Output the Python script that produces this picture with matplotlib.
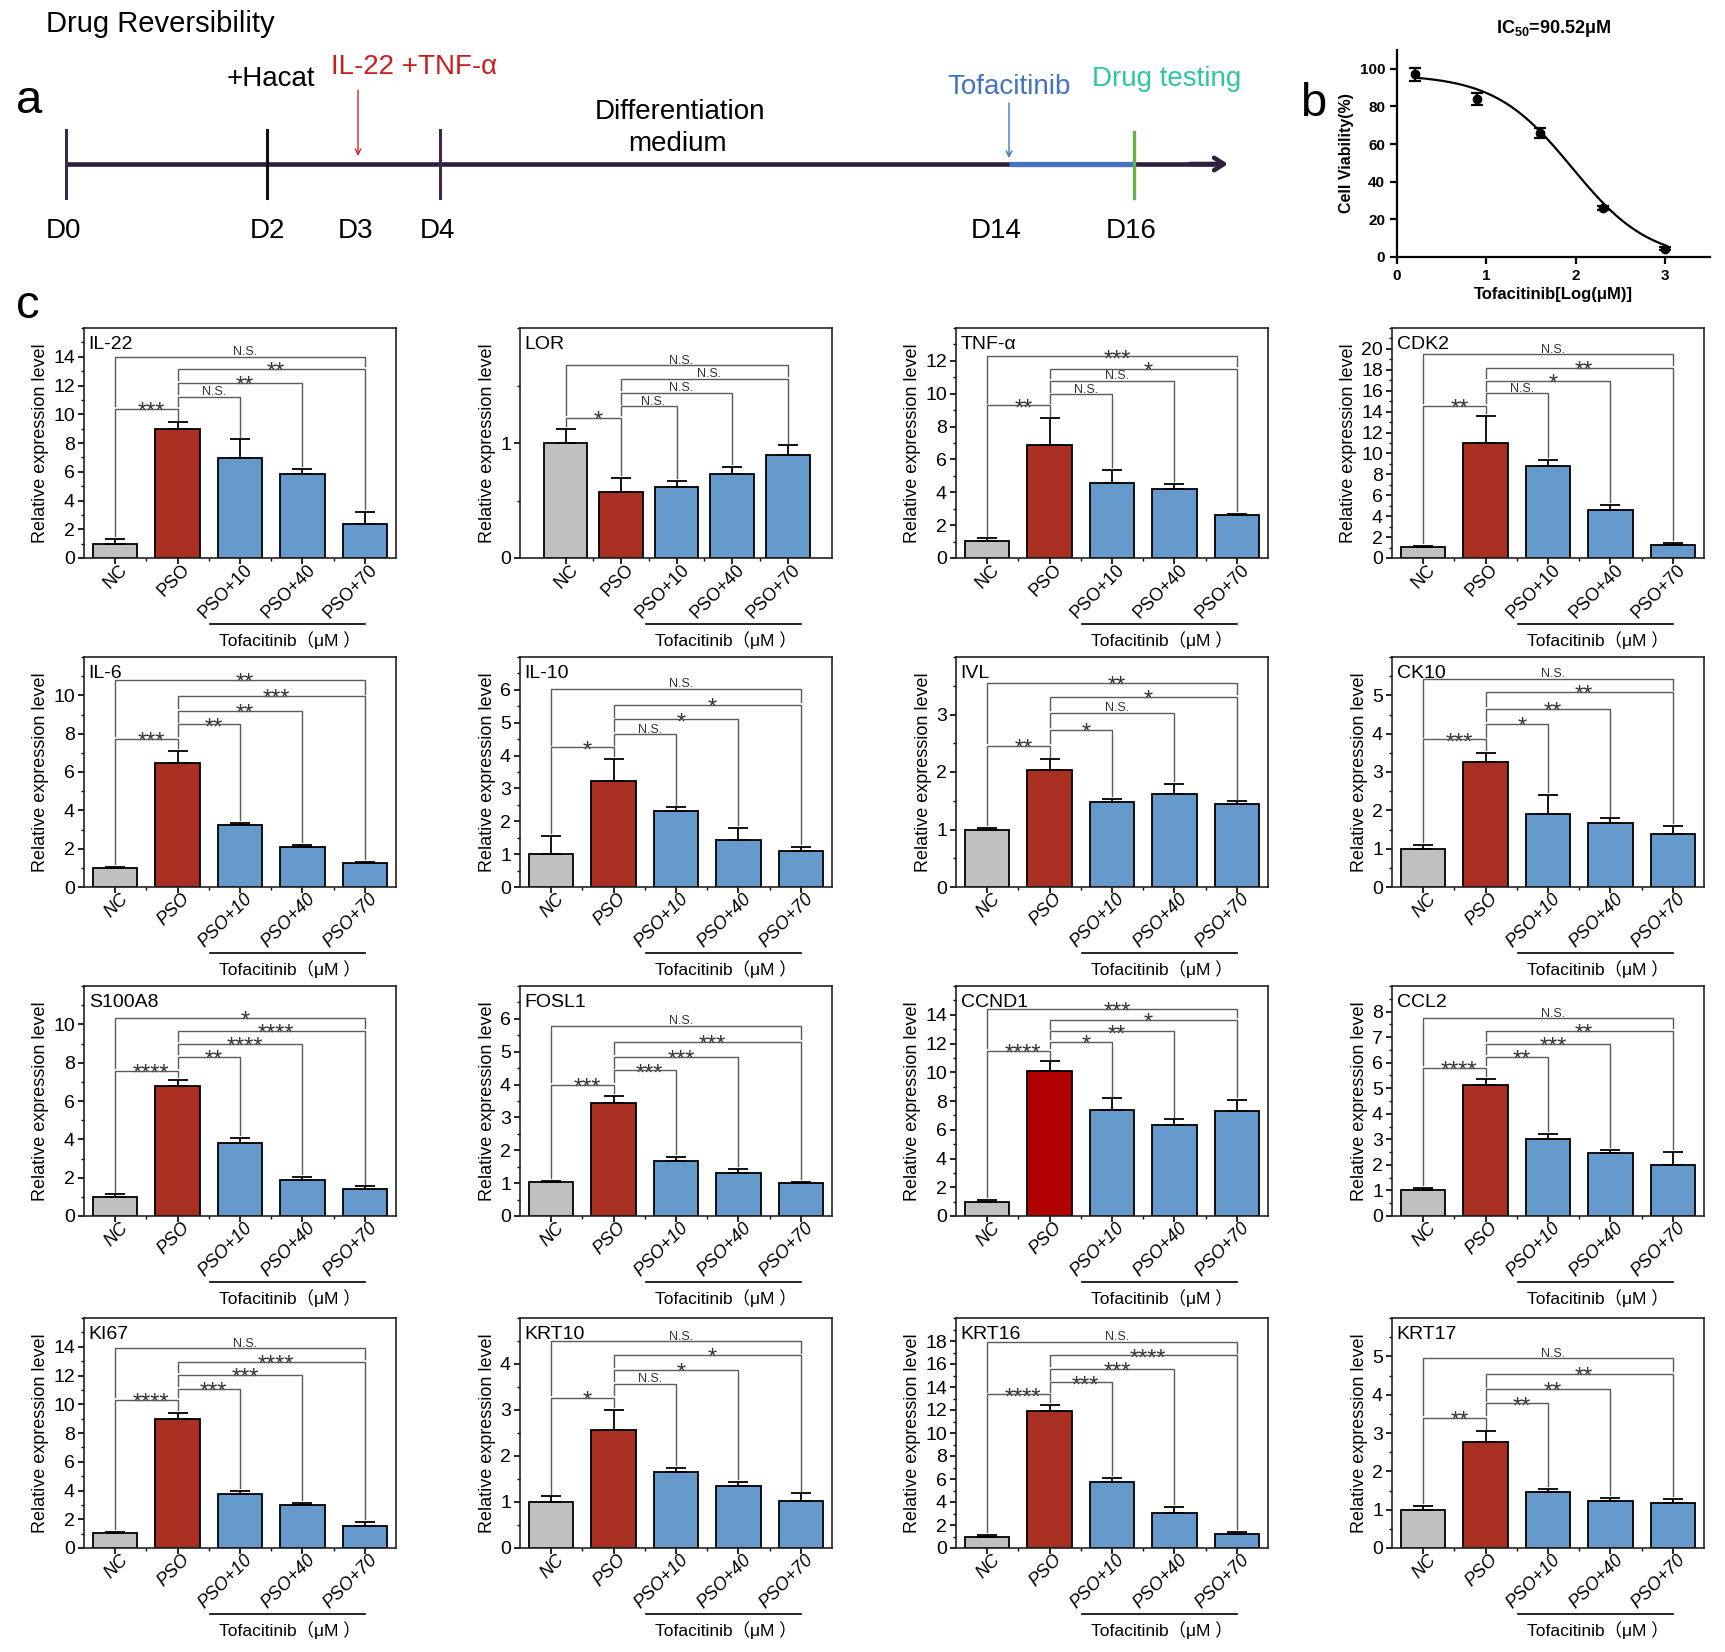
import numpy as np
import matplotlib
matplotlib.use('Agg')
import matplotlib.pyplot as plt
import matplotlib.transforms as mtransforms
from matplotlib import font_manager
from matplotlib.ticker import AutoMinorLocator

plt.rcParams['font.family'] = ['Liberation Sans', 'Noto Sans CJK SC', 'DejaVu Sans']
plt.rcParams['mathtext.fontset'] = 'custom'
plt.rcParams['mathtext.rm'] = 'Liberation Sans'
plt.rcParams['mathtext.bf'] = 'Liberation Sans:bold'

# rows 2-4 of panel c use a narrow face in the original
try:
    font_manager.findfont(font_manager.FontProperties(family='Liberation Sans Narrow'),
                          fallback_to_default=False)
    NARROW = 'Liberation Sans Narrow'
except ValueError:
    NARROW = 'Liberation Sans'

# ---------------- data ----------------
# panel b: dose response
log_dose = [0.2, 0.9, 1.6, 2.3, 3.0]
viability = [97, 84, 66, 26, 4.5]
viability_err = [3.5, 3, 2.5, 1.2, 1]
fit_top, fit_bottom, fit_log_ic50, fit_hill = 97, -2, np.log10(90.52), 1.0

# panel a: timeline
day_labels = ['D0', 'D2', 'D3', 'D4', 'D14', 'D16']

# panel c
groups = ['NC', 'PSO', 'PSO+10', 'PSO+40', 'PSO+70']
genes = ['IL-22', 'LOR', 'TNF-α', 'CDK2',
         'IL-6', 'IL-10', 'IVL', 'CK10',
         'S100A8', 'FOSL1', 'CCND1', 'CCL2',
         'KI67', 'KRT10', 'KRT16', 'KRT17']
means = [
    [1.0, 8.95, 6.98, 5.81, 2.37],
    [1.0, 0.57, 0.62, 0.73, 0.90],
    [1.02, 6.87, 4.54, 4.20, 2.61],
    [1.02, 11.02, 8.79, 4.63, 1.28],
    [0.99, 6.46, 3.23, 2.11, 1.27],
    [1.01, 3.22, 2.32, 1.44, 1.09],
    [1.0, 2.04, 1.47, 1.62, 1.44],
    [1.0, 3.26, 1.91, 1.68, 1.39],
    [1.01, 6.79, 3.80, 1.90, 1.41],
    [1.02, 3.45, 1.67, 1.32, 0.99],
    [1.0, 10.12, 7.34, 6.32, 7.27],
    [1.01, 5.12, 3.01, 2.45, 1.98],
    [1.05, 9.0, 3.77, 2.98, 1.56],
    [1.01, 2.56, 1.65, 1.34, 1.03],
    [0.99, 11.88, 5.72, 3.08, 1.22],
    [1.0, 2.77, 1.46, 1.22, 1.18],
]
errs = [
    [0.35, 0.49, 1.28, 0.38, 0.84],
    [0.125, 0.13, 0.05, 0.06, 0.08],
    [0.18, 1.63, 0.82, 0.32, 0.08],
    [0.13, 2.56, 0.6, 0.45, 0.19],
    [0.07, 0.66, 0.12, 0.09, 0.06],
    [0.54, 0.69, 0.1, 0.37, 0.13],
    [0.03, 0.18, 0.06, 0.18, 0.05],
    [0.09, 0.23, 0.49, 0.11, 0.21],
    [0.12, 0.3, 0.27, 0.14, 0.13],
    [0.05, 0.2, 0.12, 0.12, 0.04],
    [0.12, 0.63, 0.84, 0.4, 0.82],
    [0.1, 0.25, 0.2, 0.14, 0.53],
    [0.09, 0.42, 0.23, 0.14, 0.25],
    [0.11, 0.45, 0.1, 0.1, 0.16],
    [0.14, 0.55, 0.38, 0.49, 0.2],
    [0.1, 0.27, 0.08, 0.09, 0.1],
]
# comparisons: NC-PSO, PSO-10, PSO-40, PSO-70, NC-70
pairs = [(0, 1), (1, 2), (1, 3), (1, 4), (0, 4)]
bracket_y = [
    [10.4, 11.23, 12.16, 13.14, 14.0],
    [1.217, 1.319, 1.435, 1.557, 1.675],
    [9.29, 9.96, 10.8, 11.51, 12.27],
    [14.57, 15.75, 16.96, 18.15, 19.49],
    [7.73, 8.48, 9.2, 9.95, 10.79],
    [4.25, 4.65, 5.1, 5.55, 6.03],
    [2.46, 2.73, 3.03, 3.3, 3.55],
    [3.85, 4.26, 4.64, 5.08, 5.43],
    [7.59, 8.29, 8.97, 9.65, 10.35],
    [4.0, 4.43, 4.85, 5.29, 5.78],
    [11.49, 12.1, 12.84, 13.64, 14.38],
    [5.8, 6.24, 6.74, 7.24, 7.74],
    [10.28, 11.09, 12.05, 12.95, 13.9],
    [3.26, 3.57, 3.87, 4.19, 4.49],
    [13.36, 14.4, 15.56, 16.75, 17.94],
    [3.4, 3.77, 4.14, 4.54, 4.95],
]
sig = [
    ['***', 'N.S.', '**', '**', 'N.S.'],
    ['*', 'N.S.', 'N.S.', 'N.S.', 'N.S.'],
    ['**', 'N.S.', 'N.S.', '*', '***'],
    ['**', 'N.S.', '*', '**', 'N.S.'],
    ['***', '**', '**', '***', '**'],
    ['*', 'N.S.', '*', '*', 'N.S.'],
    ['**', '*', 'N.S.', '*', '**'],
    ['***', '*', '**', '**', 'N.S.'],
    ['****', '**', '****', '****', '*'],
    ['***', '***', '***', '***', 'N.S.'],
    ['****', '*', '**', '*', '***'],
    ['****', '**', '***', '**', 'N.S.'],
    ['****', '***', '***', '****', 'N.S.'],
    ['*', 'N.S.', '*', '*', 'N.S.'],
    ['****', '***', '***', '****', 'N.S.'],
    ['**', '**', '**', '**', 'N.S.'],
]
y_top = [16, 2, 14, 22, 12, 7, 4, 6, 12, 7, 16, 9, 16, 5, 20, 6]
y_step = [2, 1, 2, 2, 2, 1, 1, 1, 2, 1, 2, 1, 2, 1, 2, 1]

# ---------------- figure ----------------
W, H = 1725, 1652
fig = plt.figure(figsize=(W / 100, H / 100), dpi=100)

# ---- panel a: timeline drawn in pixel space ----
top_h = 262
axa = fig.add_axes([0, 1 - top_h / H, 1, top_h / H])
axa.set_xlim(0, W)
axa.set_ylim(top_h, 0)
axa.axis('off')

line_c = '#2e1f3e'
line_y = 164
day_x = [64, 267, 355, 437, 996, 1131]
axa.plot([66, 1215], [line_y, line_y], color=line_c, lw=3.3, solid_capstyle='butt', zorder=2)
axa.annotate('', xy=(1228, line_y), xytext=(1190, line_y),
             arrowprops=dict(arrowstyle='->,head_length=0.7,head_width=0.45',
                             color=line_c, lw=3.3, shrinkA=0, shrinkB=0))
axa.plot([1009, 1134], [line_y, line_y], color='#4472c4', lw=3.8, solid_capstyle='butt', zorder=3)
for tx, tc in [(66, '#3a2a4a'), (267, '#111111'), (440, '#3a2a4a')]:
    axa.plot([tx, tx], [130, 198], color=tc, lw=2.2, zorder=4)
axa.plot([1134, 1134], [132, 198], color='#6ab04c', lw=2.4, zorder=4)
for lab, dx in zip(day_labels, day_x):
    axa.text(dx, 231, lab, ha='center', va='center', fontsize=20)

axa.text(46, 24, 'Drug Reversibility', ha='left', va='center', fontsize=21)
axa.text(271, 79, '+Hacat', ha='center', va='center', fontsize=20)
axa.text(414, 67, 'IL-22 +TNF-α', ha='center', va='center', fontsize=20, color='#c8201e')
axa.annotate('', xy=(358, 156), xytext=(358, 90),
             arrowprops=dict(arrowstyle='->', color='#d02525', lw=1.0, shrinkA=0, shrinkB=0))
axa.text(680, 112, 'Differentiation', ha='center', va='center', fontsize=20)
axa.text(678, 144, 'medium', ha='center', va='center', fontsize=20)
axa.text(1009, 87, 'Tofacitinib', ha='center', va='center', fontsize=20, color='#4472c4')
axa.annotate('', xy=(1009, 158), xytext=(1009, 103),
             arrowprops=dict(arrowstyle='->', color='#4472c4', lw=1.0, shrinkA=0, shrinkB=0))
axa.text(1167, 79, 'Drug testing', ha='center', va='center', fontsize=20, color='#2ec4a6')

fig.text(16 / W, 1 - 101 / H, 'a', fontsize=34, ha='left', va='center')
fig.text(1300 / W, 1 - 104 / H, 'b', fontsize=34, ha='left', va='center')
fig.text(16 / W, 1 - 306 / H, 'c', fontsize=34, ha='left', va='center')

# ---- panel b: IC50 curve ----
axb = fig.add_axes([1397 / W, 1 - 257 / H, 313 / W, 207 / H])
axb.errorbar(log_dose, viability, yerr=viability_err, fmt='o', color='black', ms=6,
             capsize=4, elinewidth=1.6, capthick=1.6, zorder=3)
xs = np.linspace(min(log_dose), max(log_dose), 300)
curve = fit_bottom + (fit_top - fit_bottom) / (1 + 10 ** ((xs - fit_log_ic50) * fit_hill))
axb.plot(xs, curve, color='black', lw=1.6)
axb.set_xlim(0, 3.5)
axb.set_ylim(0, 110)
axb.set_xticks([0, 1, 2, 3])
axb.set_yticks(np.arange(0, 101, 20))
for s in ['top', 'right']:
    axb.spines[s].set_visible(False)
for s in ['left', 'bottom']:
    axb.spines[s].set_linewidth(1.6)
axb.tick_params(direction='out', length=5, width=1.6, labelsize=11)
for lbl in axb.get_xticklabels() + axb.get_yticklabels():
    lbl.set_fontweight('bold')
axb.set_ylabel('Cell Viability(%)', fontsize=11.5, fontweight='bold', labelpad=4)
axb.set_xlabel('Tofacitinib[Log(μM)]', fontsize=12, fontweight='bold', labelpad=3)
axb.set_title(r'IC$_{\mathbf{50}}$=90.52μM', fontsize=13, fontweight='bold', pad=12)

# ---- panel c: bar charts ----
col_left = [84, 520, 956, 1392]
row_top = [328, 657, 986, 1318]
ax_w, ax_h = 312, 230
bar_colors = ['#c0c0c0', '#a93021', '#6699cc', '#6699cc', '#6699cc']
brk_color = '#5a5a5a'
shift = mtransforms.ScaledTranslation(10 / 100, 0, fig.dpi_scale_trans)

for k, gene in enumerate(genes):
    r, c = divmod(k, 4)
    ax = fig.add_axes([col_left[c] / W, 1 - (row_top[r] + ax_h) / H, ax_w / W, ax_h / H])
    x = np.arange(len(groups))
    wide = gene == 'LOR'
    bw = 0.79 if wide else 0.71
    cols = list(bar_colors)
    if gene == 'CCND1':
        cols[1] = '#b30000'
    ax.bar(x, means[k], bw, color=cols, edgecolor='black', linewidth=1.3, zorder=2)
    ax.errorbar(x, means[k], yerr=[np.zeros(len(x)), errs[k]], fmt='none', ecolor='black',
                elinewidth=1.3, capsize=7, capthick=1.3, zorder=3)
    ax.set_xlim((-0.82, 4.8) if wide else (-0.5, 4.5))
    ax.set_ylim(0, y_top[k])
    ax.set_yticks(np.arange(0, y_top[k] - 1e-9, y_step[k]))
    ax.yaxis.set_minor_locator(AutoMinorLocator(2))
    ax.set_xticks(x)
    ax.set_xticks(np.arange(0.5, 4, 1), minor=True)
    ax.tick_params(which='major', direction='out', length=4, width=1.2, pad=2.5)
    ax.tick_params(axis='x', which='major', pad=2.5)
    ax.tick_params(which='minor', direction='out', length=2.5, width=1.0)

    fam = 'Liberation Sans' if r == 0 else NARROW
    style = 'normal' if r == 0 else 'italic'
    ax.set_xticklabels(groups, rotation=45, ha='right', va='center', rotation_mode='anchor',
                       fontsize=13, family=[fam, 'DejaVu Sans'], style=style)
    for lbl in ax.get_xticklabels():
        lbl.set_transform(lbl.get_transform() + shift)
    for lbl in ax.get_yticklabels():
        lbl.set_fontsize(14)
        lbl.set_family([fam, 'DejaVu Sans'])
    for s in ax.spines.values():
        s.set_linewidth(1.2)
        s.set_color('#222222')
    ax.set_ylabel('Relative expression level', fontsize=13, labelpad=3)
    ax.text(0.015, 0.965, gene, transform=ax.transAxes, ha='left', va='top',
            fontsize=14, family=[fam, 'DejaVu Sans'])

    # significance brackets, each leg stops just above what lies below it
    occupied = [m + e for m, e in zip(means[k], errs[k])]
    gap = 0.012 * y_top[k]
    for (i, j), h, lab in zip(pairs, bracket_y[k], sig[k]):
        ax.plot([i, i, j, j], [occupied[i] + gap, h, h, occupied[j] + gap],
                color=brk_color, lw=1.0, zorder=4, solid_joinstyle='miter')
        occupied[i] = h
        occupied[j] = h
        if lab.startswith('*'):
            ax.annotate(lab, xy=((i + j) / 2 + 0.08, h), xytext=(0, -7),
                        textcoords='offset points', ha='center', va='baseline',
                        fontsize=17, color='#333333')
        else:
            ax.annotate(lab, xy=((i + j) / 2 + 0.08, h), xytext=(0, 1.2),
                        textcoords='offset points', ha='center', va='baseline',
                        fontsize=9, color='#333333')

    # treatment group underline and label
    ax.plot([0.405, 0.9], [-0.287, -0.287], transform=ax.transAxes, color='black',
            lw=1.2, clip_on=False)
    ax.text(0.66, -0.355, 'Tofacitinib（μM ）', transform=ax.transAxes, ha='center',
            va='center', fontsize=12.5, family=[fam, 'Noto Sans CJK SC'])

fig.savefig('out.png', dpi=100)
